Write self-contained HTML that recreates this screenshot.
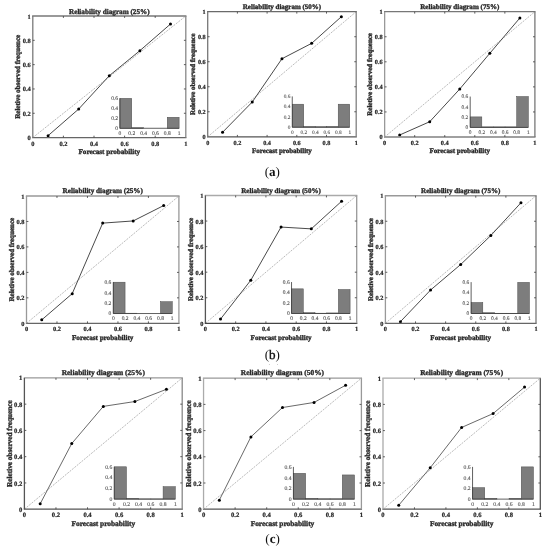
<!DOCTYPE html>
<html><head><meta charset="utf-8"><style>
html,body{margin:0;padding:0;background:#fff;}
svg{display:block;}
text{font-family:"Liberation Serif","Times New Roman",serif;text-rendering:geometricPrecision;}
</style></head><body>
<svg width="546" height="550" viewBox="0 0 546 550">
<rect width="546" height="550" fill="#fff"/>
<g id="a1"><line x1="32.80" y1="137.60" x2="185.80" y2="16.00" stroke="#a8a8a8" stroke-width="0.8" stroke-dasharray="2 1.1"/>
<polyline points="48.10,135.65 78.70,109.02 109.30,75.71 139.90,50.66 170.50,24.03" fill="none" stroke="#3e3e3e" stroke-width="0.95"/>
<circle cx="48.10" cy="135.65" r="1.5" fill="#000"/>
<circle cx="78.70" cy="109.02" r="1.5" fill="#000"/>
<circle cx="109.30" cy="75.71" r="1.5" fill="#000"/>
<circle cx="139.90" cy="50.66" r="1.5" fill="#000"/>
<circle cx="170.50" cy="24.03" r="1.5" fill="#000"/>
<rect x="119.90" y="98.36" width="11.84" height="29.91" fill="#7d7d7d" stroke="#4a4a4a" stroke-width="0.5"/>
<rect x="131.75" y="127.67" width="11.84" height="0.60" fill="#7d7d7d" stroke="#4a4a4a" stroke-width="0.5"/>
<rect x="143.59" y="128.27" width="11.84" height="0.00" fill="#7d7d7d" stroke="#4a4a4a" stroke-width="0.5"/>
<rect x="155.43" y="128.27" width="11.84" height="0.00" fill="#7d7d7d" stroke="#4a4a4a" stroke-width="0.5"/>
<rect x="167.27" y="117.30" width="11.84" height="10.97" fill="#7d7d7d" stroke="#4a4a4a" stroke-width="0.5"/>
<path d="M119.90,98.36 V128.27 H179.11" fill="none" stroke="#383838" stroke-width="0.8"/>
<text x="118.00" y="130.14" font-size="5.51" text-anchor="end" fill="#505050" stroke="#505050" stroke-width="0.1">0</text>
<text x="118.00" y="120.17" font-size="5.51" text-anchor="end" fill="#505050" stroke="#505050" stroke-width="0.1">0.2</text>
<text x="118.00" y="110.20" font-size="5.51" text-anchor="end" fill="#505050" stroke="#505050" stroke-width="0.1">0.4</text>
<text x="118.00" y="100.23" font-size="5.51" text-anchor="end" fill="#505050" stroke="#505050" stroke-width="0.1">0.6</text>
<text x="119.90" y="135.22" font-size="5.51" text-anchor="middle" fill="#505050" stroke="#505050" stroke-width="0.1">0</text>
<text x="131.75" y="135.22" font-size="5.51" text-anchor="middle" fill="#505050" stroke="#505050" stroke-width="0.1">0.2</text>
<text x="143.59" y="135.22" font-size="5.51" text-anchor="middle" fill="#505050" stroke="#505050" stroke-width="0.1">0.4</text>
<text x="155.43" y="135.22" font-size="5.51" text-anchor="middle" fill="#505050" stroke="#505050" stroke-width="0.1">0.6</text>
<text x="167.27" y="135.22" font-size="5.51" text-anchor="middle" fill="#505050" stroke="#505050" stroke-width="0.1">0.8</text>
<text x="179.11" y="135.22" font-size="5.51" text-anchor="middle" fill="#505050" stroke="#505050" stroke-width="0.1">1</text>
<line x1="32.15" y1="16.00" x2="186.45" y2="16.00" stroke="#777" stroke-width="1.3"/>
<line x1="32.15" y1="137.60" x2="186.45" y2="137.60" stroke="#666" stroke-width="1.3"/>
<line x1="32.80" y1="16.00" x2="32.80" y2="137.60" stroke="#7a7a7a" stroke-width="1.3"/>
<line x1="185.80" y1="16.00" x2="185.80" y2="137.60" stroke="#888" stroke-width="1.3"/>
<line x1="63.40" y1="137.60" x2="63.40" y2="135.70" stroke="#4a4a4a" stroke-width="0.9"/>
<line x1="63.40" y1="16.00" x2="63.40" y2="17.90" stroke="#4a4a4a" stroke-width="0.9"/>
<line x1="32.80" y1="113.28" x2="34.70" y2="113.28" stroke="#4a4a4a" stroke-width="0.9"/>
<line x1="185.80" y1="113.28" x2="183.90" y2="113.28" stroke="#4a4a4a" stroke-width="0.9"/>
<line x1="94.00" y1="137.60" x2="94.00" y2="135.70" stroke="#4a4a4a" stroke-width="0.9"/>
<line x1="94.00" y1="16.00" x2="94.00" y2="17.90" stroke="#4a4a4a" stroke-width="0.9"/>
<line x1="32.80" y1="88.96" x2="34.70" y2="88.96" stroke="#4a4a4a" stroke-width="0.9"/>
<line x1="185.80" y1="88.96" x2="183.90" y2="88.96" stroke="#4a4a4a" stroke-width="0.9"/>
<line x1="124.60" y1="137.60" x2="124.60" y2="135.70" stroke="#4a4a4a" stroke-width="0.9"/>
<line x1="124.60" y1="16.00" x2="124.60" y2="17.90" stroke="#4a4a4a" stroke-width="0.9"/>
<line x1="32.80" y1="64.64" x2="34.70" y2="64.64" stroke="#4a4a4a" stroke-width="0.9"/>
<line x1="185.80" y1="64.64" x2="183.90" y2="64.64" stroke="#4a4a4a" stroke-width="0.9"/>
<line x1="155.20" y1="137.60" x2="155.20" y2="135.70" stroke="#4a4a4a" stroke-width="0.9"/>
<line x1="155.20" y1="16.00" x2="155.20" y2="17.90" stroke="#4a4a4a" stroke-width="0.9"/>
<line x1="32.80" y1="40.32" x2="34.70" y2="40.32" stroke="#4a4a4a" stroke-width="0.9"/>
<line x1="185.80" y1="40.32" x2="183.90" y2="40.32" stroke="#4a4a4a" stroke-width="0.9"/>
<text x="32.80" y="145.72" font-size="6.43" font-weight="bold" text-anchor="middle" fill="#2a2a2a" stroke="#2a2a2a" stroke-width="0.22">0</text>
<text x="30.80" y="140.12" font-size="6.43" font-weight="bold" text-anchor="end" fill="#2a2a2a" stroke="#2a2a2a" stroke-width="0.22">0</text>
<text x="63.40" y="145.72" font-size="6.43" font-weight="bold" text-anchor="middle" fill="#2a2a2a" stroke="#2a2a2a" stroke-width="0.22">0.2</text>
<text x="30.80" y="115.80" font-size="6.43" font-weight="bold" text-anchor="end" fill="#2a2a2a" stroke="#2a2a2a" stroke-width="0.22">0.2</text>
<text x="94.00" y="145.72" font-size="6.43" font-weight="bold" text-anchor="middle" fill="#2a2a2a" stroke="#2a2a2a" stroke-width="0.22">0.4</text>
<text x="30.80" y="91.48" font-size="6.43" font-weight="bold" text-anchor="end" fill="#2a2a2a" stroke="#2a2a2a" stroke-width="0.22">0.4</text>
<text x="124.60" y="145.72" font-size="6.43" font-weight="bold" text-anchor="middle" fill="#2a2a2a" stroke="#2a2a2a" stroke-width="0.22">0.6</text>
<text x="30.80" y="67.16" font-size="6.43" font-weight="bold" text-anchor="end" fill="#2a2a2a" stroke="#2a2a2a" stroke-width="0.22">0.6</text>
<text x="155.20" y="145.72" font-size="6.43" font-weight="bold" text-anchor="middle" fill="#2a2a2a" stroke="#2a2a2a" stroke-width="0.22">0.8</text>
<text x="30.80" y="42.84" font-size="6.43" font-weight="bold" text-anchor="end" fill="#2a2a2a" stroke="#2a2a2a" stroke-width="0.22">0.8</text>
<text x="185.80" y="145.72" font-size="6.43" font-weight="bold" text-anchor="middle" fill="#2a2a2a" stroke="#2a2a2a" stroke-width="0.22">1</text>
<text x="30.80" y="18.52" font-size="6.43" font-weight="bold" text-anchor="end" fill="#2a2a2a" stroke="#2a2a2a" stroke-width="0.22">1</text>
<text x="109.30" y="13.70" font-size="7.22" font-weight="bold" text-anchor="middle" fill="#2a2a2a" stroke="#2a2a2a" stroke-width="0.35" textLength="80.64" lengthAdjust="spacing">Reliability diagram (25%)</text>
<text x="109.30" y="154.28" font-size="7.22" font-weight="bold" text-anchor="middle" fill="#2a2a2a" stroke="#2a2a2a" stroke-width="0.35" textLength="61.67" lengthAdjust="spacing">Forecast probability</text>
<text transform="translate(20.20,76.80) rotate(-90)" x="0" y="0" font-size="7.22" font-weight="bold" text-anchor="middle" fill="#2a2a2a" stroke="#2a2a2a" stroke-width="0.35" textLength="84.14" lengthAdjust="spacing">Reletive observed frequence</text></g>
<g id="a2"><line x1="207.70" y1="136.80" x2="356.20" y2="11.70" stroke="#a8a8a8" stroke-width="0.8" stroke-dasharray="2 1.1"/>
<polyline points="222.55,132.30 252.25,102.02 281.95,58.74 311.65,43.35 341.35,16.70" fill="none" stroke="#3e3e3e" stroke-width="0.95"/>
<circle cx="222.55" cy="132.30" r="1.5" fill="#000"/>
<circle cx="252.25" cy="102.02" r="1.5" fill="#000"/>
<circle cx="281.95" cy="58.74" r="1.5" fill="#000"/>
<circle cx="311.65" cy="43.35" r="1.5" fill="#000"/>
<circle cx="341.35" cy="16.70" r="1.5" fill="#000"/>
<rect x="292.25" y="104.21" width="11.49" height="22.98" fill="#7d7d7d" stroke="#4a4a4a" stroke-width="0.5"/>
<rect x="303.74" y="126.68" width="11.49" height="0.51" fill="#7d7d7d" stroke="#4a4a4a" stroke-width="0.5"/>
<rect x="315.24" y="126.78" width="11.49" height="0.41" fill="#7d7d7d" stroke="#4a4a4a" stroke-width="0.5"/>
<rect x="326.73" y="126.68" width="11.49" height="0.51" fill="#7d7d7d" stroke="#4a4a4a" stroke-width="0.5"/>
<rect x="338.22" y="104.21" width="11.49" height="22.98" fill="#7d7d7d" stroke="#4a4a4a" stroke-width="0.5"/>
<path d="M292.25,96.42 V127.19 H349.72" fill="none" stroke="#383838" stroke-width="0.8"/>
<text x="290.35" y="129.01" font-size="5.35" text-anchor="end" fill="#505050" stroke="#505050" stroke-width="0.1">0</text>
<text x="290.35" y="118.75" font-size="5.35" text-anchor="end" fill="#505050" stroke="#505050" stroke-width="0.1">0.2</text>
<text x="290.35" y="108.49" font-size="5.35" text-anchor="end" fill="#505050" stroke="#505050" stroke-width="0.1">0.4</text>
<text x="290.35" y="98.24" font-size="5.35" text-anchor="end" fill="#505050" stroke="#505050" stroke-width="0.1">0.6</text>
<text x="292.25" y="134.03" font-size="5.35" text-anchor="middle" fill="#505050" stroke="#505050" stroke-width="0.1">0</text>
<text x="303.74" y="134.03" font-size="5.35" text-anchor="middle" fill="#505050" stroke="#505050" stroke-width="0.1">0.2</text>
<text x="315.24" y="134.03" font-size="5.35" text-anchor="middle" fill="#505050" stroke="#505050" stroke-width="0.1">0.4</text>
<text x="326.73" y="134.03" font-size="5.35" text-anchor="middle" fill="#505050" stroke="#505050" stroke-width="0.1">0.6</text>
<text x="338.22" y="134.03" font-size="5.35" text-anchor="middle" fill="#505050" stroke="#505050" stroke-width="0.1">0.8</text>
<text x="349.72" y="134.03" font-size="5.35" text-anchor="middle" fill="#505050" stroke="#505050" stroke-width="0.1">1</text>
<line x1="207.05" y1="11.70" x2="356.85" y2="11.70" stroke="#6a6a6a" stroke-width="1.3"/>
<line x1="207.05" y1="136.80" x2="356.85" y2="136.80" stroke="#555" stroke-width="1.3"/>
<line x1="207.70" y1="11.70" x2="207.70" y2="136.80" stroke="#777" stroke-width="1.3"/>
<line x1="356.20" y1="11.70" x2="356.20" y2="136.80" stroke="#808080" stroke-width="1.3"/>
<line x1="237.40" y1="136.80" x2="237.40" y2="134.90" stroke="#4a4a4a" stroke-width="0.9"/>
<line x1="237.40" y1="11.70" x2="237.40" y2="13.60" stroke="#4a4a4a" stroke-width="0.9"/>
<line x1="207.70" y1="111.78" x2="209.60" y2="111.78" stroke="#4a4a4a" stroke-width="0.9"/>
<line x1="356.20" y1="111.78" x2="354.30" y2="111.78" stroke="#4a4a4a" stroke-width="0.9"/>
<line x1="267.10" y1="136.80" x2="267.10" y2="134.90" stroke="#4a4a4a" stroke-width="0.9"/>
<line x1="267.10" y1="11.70" x2="267.10" y2="13.60" stroke="#4a4a4a" stroke-width="0.9"/>
<line x1="207.70" y1="86.76" x2="209.60" y2="86.76" stroke="#4a4a4a" stroke-width="0.9"/>
<line x1="356.20" y1="86.76" x2="354.30" y2="86.76" stroke="#4a4a4a" stroke-width="0.9"/>
<line x1="296.80" y1="136.80" x2="296.80" y2="134.90" stroke="#4a4a4a" stroke-width="0.9"/>
<line x1="296.80" y1="11.70" x2="296.80" y2="13.60" stroke="#4a4a4a" stroke-width="0.9"/>
<line x1="207.70" y1="61.74" x2="209.60" y2="61.74" stroke="#4a4a4a" stroke-width="0.9"/>
<line x1="356.20" y1="61.74" x2="354.30" y2="61.74" stroke="#4a4a4a" stroke-width="0.9"/>
<line x1="326.50" y1="136.80" x2="326.50" y2="134.90" stroke="#4a4a4a" stroke-width="0.9"/>
<line x1="326.50" y1="11.70" x2="326.50" y2="13.60" stroke="#4a4a4a" stroke-width="0.9"/>
<line x1="207.70" y1="36.72" x2="209.60" y2="36.72" stroke="#4a4a4a" stroke-width="0.9"/>
<line x1="356.20" y1="36.72" x2="354.30" y2="36.72" stroke="#4a4a4a" stroke-width="0.9"/>
<text x="207.70" y="144.86" font-size="6.24" font-weight="bold" text-anchor="middle" fill="#2a2a2a" stroke="#2a2a2a" stroke-width="0.22">0</text>
<text x="205.70" y="139.26" font-size="6.24" font-weight="bold" text-anchor="end" fill="#2a2a2a" stroke="#2a2a2a" stroke-width="0.22">0</text>
<text x="237.40" y="144.86" font-size="6.24" font-weight="bold" text-anchor="middle" fill="#2a2a2a" stroke="#2a2a2a" stroke-width="0.22">0.2</text>
<text x="205.70" y="114.24" font-size="6.24" font-weight="bold" text-anchor="end" fill="#2a2a2a" stroke="#2a2a2a" stroke-width="0.22">0.2</text>
<text x="267.10" y="144.86" font-size="6.24" font-weight="bold" text-anchor="middle" fill="#2a2a2a" stroke="#2a2a2a" stroke-width="0.22">0.4</text>
<text x="205.70" y="89.22" font-size="6.24" font-weight="bold" text-anchor="end" fill="#2a2a2a" stroke="#2a2a2a" stroke-width="0.22">0.4</text>
<text x="296.80" y="144.86" font-size="6.24" font-weight="bold" text-anchor="middle" fill="#2a2a2a" stroke="#2a2a2a" stroke-width="0.22">0.6</text>
<text x="205.70" y="64.20" font-size="6.24" font-weight="bold" text-anchor="end" fill="#2a2a2a" stroke="#2a2a2a" stroke-width="0.22">0.6</text>
<text x="326.50" y="144.86" font-size="6.24" font-weight="bold" text-anchor="middle" fill="#2a2a2a" stroke="#2a2a2a" stroke-width="0.22">0.8</text>
<text x="205.70" y="39.18" font-size="6.24" font-weight="bold" text-anchor="end" fill="#2a2a2a" stroke="#2a2a2a" stroke-width="0.22">0.8</text>
<text x="356.20" y="144.86" font-size="6.24" font-weight="bold" text-anchor="middle" fill="#2a2a2a" stroke="#2a2a2a" stroke-width="0.22">1</text>
<text x="205.70" y="14.16" font-size="6.24" font-weight="bold" text-anchor="end" fill="#2a2a2a" stroke="#2a2a2a" stroke-width="0.22">1</text>
<text x="281.95" y="9.40" font-size="7.01" font-weight="bold" text-anchor="middle" fill="#2a2a2a" stroke="#2a2a2a" stroke-width="0.35" textLength="78.25" lengthAdjust="spacing">Reliability diagram (50%)</text>
<text x="281.95" y="152.99" font-size="7.01" font-weight="bold" text-anchor="middle" fill="#2a2a2a" stroke="#2a2a2a" stroke-width="0.35" textLength="59.84" lengthAdjust="spacing">Forecast probability</text>
<text transform="translate(195.10,74.25) rotate(-90)" x="0" y="0" font-size="7.01" font-weight="bold" text-anchor="middle" fill="#2a2a2a" stroke="#2a2a2a" stroke-width="0.35" textLength="81.68" lengthAdjust="spacing">Reletive observed frequence</text></g>
<g id="a3"><line x1="384.65" y1="137.00" x2="534.90" y2="11.70" stroke="#a8a8a8" stroke-width="0.8" stroke-dasharray="2 1.1"/>
<polyline points="399.67,135.00 429.72,121.71 459.77,89.01 489.82,53.30 519.88,17.97" fill="none" stroke="#3e3e3e" stroke-width="0.95"/>
<circle cx="399.67" cy="135.00" r="1.5" fill="#000"/>
<circle cx="429.72" cy="121.71" r="1.5" fill="#000"/>
<circle cx="459.77" cy="89.01" r="1.5" fill="#000"/>
<circle cx="489.82" cy="53.30" r="1.5" fill="#000"/>
<circle cx="519.88" cy="17.97" r="1.5" fill="#000"/>
<rect x="470.19" y="116.90" width="11.63" height="10.48" fill="#7d7d7d" stroke="#4a4a4a" stroke-width="0.5"/>
<rect x="481.82" y="126.86" width="11.63" height="0.51" fill="#7d7d7d" stroke="#4a4a4a" stroke-width="0.5"/>
<rect x="493.45" y="126.86" width="11.63" height="0.51" fill="#7d7d7d" stroke="#4a4a4a" stroke-width="0.5"/>
<rect x="505.08" y="126.86" width="11.63" height="0.51" fill="#7d7d7d" stroke="#4a4a4a" stroke-width="0.5"/>
<rect x="516.71" y="96.55" width="11.63" height="30.82" fill="#7d7d7d" stroke="#4a4a4a" stroke-width="0.5"/>
<path d="M470.19,96.55 V127.38 H528.34" fill="none" stroke="#383838" stroke-width="0.8"/>
<text x="468.29" y="129.22" font-size="5.41" text-anchor="end" fill="#505050" stroke="#505050" stroke-width="0.1">0</text>
<text x="468.29" y="118.94" font-size="5.41" text-anchor="end" fill="#505050" stroke="#505050" stroke-width="0.1">0.2</text>
<text x="468.29" y="108.67" font-size="5.41" text-anchor="end" fill="#505050" stroke="#505050" stroke-width="0.1">0.4</text>
<text x="468.29" y="98.39" font-size="5.41" text-anchor="end" fill="#505050" stroke="#505050" stroke-width="0.1">0.6</text>
<text x="470.19" y="134.25" font-size="5.41" text-anchor="middle" fill="#505050" stroke="#505050" stroke-width="0.1">0</text>
<text x="481.82" y="134.25" font-size="5.41" text-anchor="middle" fill="#505050" stroke="#505050" stroke-width="0.1">0.2</text>
<text x="493.45" y="134.25" font-size="5.41" text-anchor="middle" fill="#505050" stroke="#505050" stroke-width="0.1">0.4</text>
<text x="505.08" y="134.25" font-size="5.41" text-anchor="middle" fill="#505050" stroke="#505050" stroke-width="0.1">0.6</text>
<text x="516.71" y="134.25" font-size="5.41" text-anchor="middle" fill="#505050" stroke="#505050" stroke-width="0.1">0.8</text>
<text x="528.34" y="134.25" font-size="5.41" text-anchor="middle" fill="#505050" stroke="#505050" stroke-width="0.1">1</text>
<line x1="384.00" y1="11.70" x2="535.55" y2="11.70" stroke="#777" stroke-width="1.3"/>
<line x1="384.00" y1="137.00" x2="535.55" y2="137.00" stroke="#808080" stroke-width="1.3"/>
<line x1="384.65" y1="11.70" x2="384.65" y2="137.00" stroke="#999" stroke-width="1.3"/>
<line x1="534.90" y1="11.70" x2="534.90" y2="137.00" stroke="#777" stroke-width="1.3"/>
<line x1="414.70" y1="137.00" x2="414.70" y2="135.10" stroke="#4a4a4a" stroke-width="0.9"/>
<line x1="414.70" y1="11.70" x2="414.70" y2="13.60" stroke="#4a4a4a" stroke-width="0.9"/>
<line x1="384.65" y1="111.94" x2="386.55" y2="111.94" stroke="#4a4a4a" stroke-width="0.9"/>
<line x1="534.90" y1="111.94" x2="533.00" y2="111.94" stroke="#4a4a4a" stroke-width="0.9"/>
<line x1="444.75" y1="137.00" x2="444.75" y2="135.10" stroke="#4a4a4a" stroke-width="0.9"/>
<line x1="444.75" y1="11.70" x2="444.75" y2="13.60" stroke="#4a4a4a" stroke-width="0.9"/>
<line x1="384.65" y1="86.88" x2="386.55" y2="86.88" stroke="#4a4a4a" stroke-width="0.9"/>
<line x1="534.90" y1="86.88" x2="533.00" y2="86.88" stroke="#4a4a4a" stroke-width="0.9"/>
<line x1="474.80" y1="137.00" x2="474.80" y2="135.10" stroke="#4a4a4a" stroke-width="0.9"/>
<line x1="474.80" y1="11.70" x2="474.80" y2="13.60" stroke="#4a4a4a" stroke-width="0.9"/>
<line x1="384.65" y1="61.82" x2="386.55" y2="61.82" stroke="#4a4a4a" stroke-width="0.9"/>
<line x1="534.90" y1="61.82" x2="533.00" y2="61.82" stroke="#4a4a4a" stroke-width="0.9"/>
<line x1="504.85" y1="137.00" x2="504.85" y2="135.10" stroke="#4a4a4a" stroke-width="0.9"/>
<line x1="504.85" y1="11.70" x2="504.85" y2="13.60" stroke="#4a4a4a" stroke-width="0.9"/>
<line x1="384.65" y1="36.76" x2="386.55" y2="36.76" stroke="#4a4a4a" stroke-width="0.9"/>
<line x1="534.90" y1="36.76" x2="533.00" y2="36.76" stroke="#4a4a4a" stroke-width="0.9"/>
<text x="384.65" y="145.08" font-size="6.31" font-weight="bold" text-anchor="middle" fill="#2a2a2a" stroke="#2a2a2a" stroke-width="0.22">0</text>
<text x="382.65" y="139.48" font-size="6.31" font-weight="bold" text-anchor="end" fill="#2a2a2a" stroke="#2a2a2a" stroke-width="0.22">0</text>
<text x="414.70" y="145.08" font-size="6.31" font-weight="bold" text-anchor="middle" fill="#2a2a2a" stroke="#2a2a2a" stroke-width="0.22">0.2</text>
<text x="382.65" y="114.42" font-size="6.31" font-weight="bold" text-anchor="end" fill="#2a2a2a" stroke="#2a2a2a" stroke-width="0.22">0.2</text>
<text x="444.75" y="145.08" font-size="6.31" font-weight="bold" text-anchor="middle" fill="#2a2a2a" stroke="#2a2a2a" stroke-width="0.22">0.4</text>
<text x="382.65" y="89.36" font-size="6.31" font-weight="bold" text-anchor="end" fill="#2a2a2a" stroke="#2a2a2a" stroke-width="0.22">0.4</text>
<text x="474.80" y="145.08" font-size="6.31" font-weight="bold" text-anchor="middle" fill="#2a2a2a" stroke="#2a2a2a" stroke-width="0.22">0.6</text>
<text x="382.65" y="64.30" font-size="6.31" font-weight="bold" text-anchor="end" fill="#2a2a2a" stroke="#2a2a2a" stroke-width="0.22">0.6</text>
<text x="504.85" y="145.08" font-size="6.31" font-weight="bold" text-anchor="middle" fill="#2a2a2a" stroke="#2a2a2a" stroke-width="0.22">0.8</text>
<text x="382.65" y="39.24" font-size="6.31" font-weight="bold" text-anchor="end" fill="#2a2a2a" stroke="#2a2a2a" stroke-width="0.22">0.8</text>
<text x="534.90" y="145.08" font-size="6.31" font-weight="bold" text-anchor="middle" fill="#2a2a2a" stroke="#2a2a2a" stroke-width="0.22">1</text>
<text x="382.65" y="14.18" font-size="6.31" font-weight="bold" text-anchor="end" fill="#2a2a2a" stroke="#2a2a2a" stroke-width="0.22">1</text>
<text x="459.77" y="9.40" font-size="7.09" font-weight="bold" text-anchor="middle" fill="#2a2a2a" stroke="#2a2a2a" stroke-width="0.35" textLength="79.18" lengthAdjust="spacing">Reliability diagram (75%)</text>
<text x="459.77" y="153.38" font-size="7.09" font-weight="bold" text-anchor="middle" fill="#2a2a2a" stroke="#2a2a2a" stroke-width="0.35" textLength="60.55" lengthAdjust="spacing">Forecast probability</text>
<text transform="translate(372.05,74.35) rotate(-90)" x="0" y="0" font-size="7.09" font-weight="bold" text-anchor="middle" fill="#2a2a2a" stroke="#2a2a2a" stroke-width="0.35" textLength="82.64" lengthAdjust="spacing">Reletive observed frequence</text></g>
<g id="b1"><line x1="26.50" y1="323.30" x2="178.90" y2="196.00" stroke="#a8a8a8" stroke-width="0.8" stroke-dasharray="2 1.1"/>
<polyline points="41.74,319.86 72.22,293.64 102.70,223.11 133.18,220.95 163.66,205.55" fill="none" stroke="#4a4a4a" stroke-width="1.0"/>
<circle cx="41.74" cy="319.86" r="1.5" fill="#000"/>
<circle cx="72.22" cy="293.64" r="1.5" fill="#000"/>
<circle cx="102.70" cy="223.11" r="1.5" fill="#000"/>
<circle cx="133.18" cy="220.95" r="1.5" fill="#000"/>
<circle cx="163.66" cy="205.55" r="1.5" fill="#000"/>
<rect x="113.26" y="282.20" width="11.80" height="31.32" fill="#7d7d7d" stroke="#4a4a4a" stroke-width="0.5"/>
<rect x="125.06" y="313.20" width="11.80" height="0.31" fill="#7d7d7d" stroke="#4a4a4a" stroke-width="0.5"/>
<rect x="136.85" y="313.52" width="11.80" height="0.00" fill="#7d7d7d" stroke="#4a4a4a" stroke-width="0.5"/>
<rect x="148.65" y="313.52" width="11.80" height="0.00" fill="#7d7d7d" stroke="#4a4a4a" stroke-width="0.5"/>
<rect x="160.45" y="301.72" width="11.80" height="11.80" fill="#7d7d7d" stroke="#4a4a4a" stroke-width="0.5"/>
<path d="M113.26,282.20 V313.52 H172.24" fill="none" stroke="#383838" stroke-width="0.8"/>
<text x="111.36" y="315.38" font-size="5.49" text-anchor="end" fill="#505050" stroke="#505050" stroke-width="0.1">0</text>
<text x="111.36" y="304.94" font-size="5.49" text-anchor="end" fill="#505050" stroke="#505050" stroke-width="0.1">0.2</text>
<text x="111.36" y="294.50" font-size="5.49" text-anchor="end" fill="#505050" stroke="#505050" stroke-width="0.1">0.4</text>
<text x="111.36" y="284.07" font-size="5.49" text-anchor="end" fill="#505050" stroke="#505050" stroke-width="0.1">0.6</text>
<text x="113.26" y="320.45" font-size="5.49" text-anchor="middle" fill="#505050" stroke="#505050" stroke-width="0.1">0</text>
<text x="125.06" y="320.45" font-size="5.49" text-anchor="middle" fill="#505050" stroke="#505050" stroke-width="0.1">0.2</text>
<text x="136.85" y="320.45" font-size="5.49" text-anchor="middle" fill="#505050" stroke="#505050" stroke-width="0.1">0.4</text>
<text x="148.65" y="320.45" font-size="5.49" text-anchor="middle" fill="#505050" stroke="#505050" stroke-width="0.1">0.6</text>
<text x="160.45" y="320.45" font-size="5.49" text-anchor="middle" fill="#505050" stroke="#505050" stroke-width="0.1">0.8</text>
<text x="172.24" y="320.45" font-size="5.49" text-anchor="middle" fill="#505050" stroke="#505050" stroke-width="0.1">1</text>
<line x1="25.85" y1="196.00" x2="179.55" y2="196.00" stroke="#999" stroke-width="1.3"/>
<line x1="25.85" y1="323.30" x2="179.55" y2="323.30" stroke="#666" stroke-width="1.3"/>
<line x1="26.50" y1="196.00" x2="26.50" y2="323.30" stroke="#999" stroke-width="1.3"/>
<line x1="178.90" y1="196.00" x2="178.90" y2="323.30" stroke="#999" stroke-width="1.3"/>
<line x1="56.98" y1="323.30" x2="56.98" y2="321.40" stroke="#4a4a4a" stroke-width="0.9"/>
<line x1="56.98" y1="196.00" x2="56.98" y2="197.90" stroke="#4a4a4a" stroke-width="0.9"/>
<line x1="26.50" y1="297.84" x2="28.40" y2="297.84" stroke="#4a4a4a" stroke-width="0.9"/>
<line x1="178.90" y1="297.84" x2="177.00" y2="297.84" stroke="#4a4a4a" stroke-width="0.9"/>
<line x1="87.46" y1="323.30" x2="87.46" y2="321.40" stroke="#4a4a4a" stroke-width="0.9"/>
<line x1="87.46" y1="196.00" x2="87.46" y2="197.90" stroke="#4a4a4a" stroke-width="0.9"/>
<line x1="26.50" y1="272.38" x2="28.40" y2="272.38" stroke="#4a4a4a" stroke-width="0.9"/>
<line x1="178.90" y1="272.38" x2="177.00" y2="272.38" stroke="#4a4a4a" stroke-width="0.9"/>
<line x1="117.94" y1="323.30" x2="117.94" y2="321.40" stroke="#4a4a4a" stroke-width="0.9"/>
<line x1="117.94" y1="196.00" x2="117.94" y2="197.90" stroke="#4a4a4a" stroke-width="0.9"/>
<line x1="26.50" y1="246.92" x2="28.40" y2="246.92" stroke="#4a4a4a" stroke-width="0.9"/>
<line x1="178.90" y1="246.92" x2="177.00" y2="246.92" stroke="#4a4a4a" stroke-width="0.9"/>
<line x1="148.42" y1="323.30" x2="148.42" y2="321.40" stroke="#4a4a4a" stroke-width="0.9"/>
<line x1="148.42" y1="196.00" x2="148.42" y2="197.90" stroke="#4a4a4a" stroke-width="0.9"/>
<line x1="26.50" y1="221.46" x2="28.40" y2="221.46" stroke="#4a4a4a" stroke-width="0.9"/>
<line x1="178.90" y1="221.46" x2="177.00" y2="221.46" stroke="#4a4a4a" stroke-width="0.9"/>
<text x="26.50" y="331.41" font-size="6.40" font-weight="bold" text-anchor="middle" fill="#2a2a2a" stroke="#2a2a2a" stroke-width="0.22">0</text>
<text x="24.50" y="325.81" font-size="6.40" font-weight="bold" text-anchor="end" fill="#2a2a2a" stroke="#2a2a2a" stroke-width="0.22">0</text>
<text x="56.98" y="331.41" font-size="6.40" font-weight="bold" text-anchor="middle" fill="#2a2a2a" stroke="#2a2a2a" stroke-width="0.22">0.2</text>
<text x="24.50" y="300.35" font-size="6.40" font-weight="bold" text-anchor="end" fill="#2a2a2a" stroke="#2a2a2a" stroke-width="0.22">0.2</text>
<text x="87.46" y="331.41" font-size="6.40" font-weight="bold" text-anchor="middle" fill="#2a2a2a" stroke="#2a2a2a" stroke-width="0.22">0.4</text>
<text x="24.50" y="274.89" font-size="6.40" font-weight="bold" text-anchor="end" fill="#2a2a2a" stroke="#2a2a2a" stroke-width="0.22">0.4</text>
<text x="117.94" y="331.41" font-size="6.40" font-weight="bold" text-anchor="middle" fill="#2a2a2a" stroke="#2a2a2a" stroke-width="0.22">0.6</text>
<text x="24.50" y="249.43" font-size="6.40" font-weight="bold" text-anchor="end" fill="#2a2a2a" stroke="#2a2a2a" stroke-width="0.22">0.6</text>
<text x="148.42" y="331.41" font-size="6.40" font-weight="bold" text-anchor="middle" fill="#2a2a2a" stroke="#2a2a2a" stroke-width="0.22">0.8</text>
<text x="24.50" y="223.97" font-size="6.40" font-weight="bold" text-anchor="end" fill="#2a2a2a" stroke="#2a2a2a" stroke-width="0.22">0.8</text>
<text x="178.90" y="331.41" font-size="6.40" font-weight="bold" text-anchor="middle" fill="#2a2a2a" stroke="#2a2a2a" stroke-width="0.22">1</text>
<text x="24.50" y="198.51" font-size="6.40" font-weight="bold" text-anchor="end" fill="#2a2a2a" stroke="#2a2a2a" stroke-width="0.22">1</text>
<text x="102.70" y="193.10" font-size="7.19" font-weight="bold" text-anchor="middle" fill="#2a2a2a" stroke="#2a2a2a" stroke-width="0.35" textLength="80.32" lengthAdjust="spacing">Reliability diagram (25%)</text>
<text x="102.70" y="339.91" font-size="7.19" font-weight="bold" text-anchor="middle" fill="#2a2a2a" stroke="#2a2a2a" stroke-width="0.35" textLength="61.42" lengthAdjust="spacing">Forecast probability</text>
<text transform="translate(13.90,259.65) rotate(-90)" x="0" y="0" font-size="7.19" font-weight="bold" text-anchor="middle" fill="#2a2a2a" stroke="#2a2a2a" stroke-width="0.35" textLength="83.82" lengthAdjust="spacing">Reletive observed frequence</text></g>
<g id="b2"><line x1="205.40" y1="323.30" x2="356.70" y2="195.50" stroke="#a8a8a8" stroke-width="0.8" stroke-dasharray="2 1.1"/>
<polyline points="220.53,319.08 250.79,280.23 281.05,227.07 311.31,228.86 341.57,201.25" fill="none" stroke="#4a4a4a" stroke-width="1.0"/>
<circle cx="220.53" cy="319.08" r="1.5" fill="#000"/>
<circle cx="250.79" cy="280.23" r="1.5" fill="#000"/>
<circle cx="281.05" cy="227.07" r="1.5" fill="#000"/>
<circle cx="311.31" cy="228.86" r="1.5" fill="#000"/>
<circle cx="341.57" cy="201.25" r="1.5" fill="#000"/>
<rect x="291.54" y="288.85" width="11.71" height="24.63" fill="#7d7d7d" stroke="#4a4a4a" stroke-width="0.5"/>
<rect x="303.25" y="312.69" width="11.71" height="0.79" fill="#7d7d7d" stroke="#4a4a4a" stroke-width="0.5"/>
<rect x="314.96" y="313.21" width="11.71" height="0.26" fill="#7d7d7d" stroke="#4a4a4a" stroke-width="0.5"/>
<rect x="326.67" y="312.95" width="11.71" height="0.52" fill="#7d7d7d" stroke="#4a4a4a" stroke-width="0.5"/>
<rect x="338.38" y="289.53" width="11.71" height="23.95" fill="#7d7d7d" stroke="#4a4a4a" stroke-width="0.5"/>
<path d="M291.54,282.04 V313.48 H350.09" fill="none" stroke="#383838" stroke-width="0.8"/>
<text x="289.64" y="315.33" font-size="5.45" text-anchor="end" fill="#505050" stroke="#505050" stroke-width="0.1">0</text>
<text x="289.64" y="304.85" font-size="5.45" text-anchor="end" fill="#505050" stroke="#505050" stroke-width="0.1">0.2</text>
<text x="289.64" y="294.37" font-size="5.45" text-anchor="end" fill="#505050" stroke="#505050" stroke-width="0.1">0.4</text>
<text x="289.64" y="283.89" font-size="5.45" text-anchor="end" fill="#505050" stroke="#505050" stroke-width="0.1">0.6</text>
<text x="291.54" y="320.38" font-size="5.45" text-anchor="middle" fill="#505050" stroke="#505050" stroke-width="0.1">0</text>
<text x="303.25" y="320.38" font-size="5.45" text-anchor="middle" fill="#505050" stroke="#505050" stroke-width="0.1">0.2</text>
<text x="314.96" y="320.38" font-size="5.45" text-anchor="middle" fill="#505050" stroke="#505050" stroke-width="0.1">0.4</text>
<text x="326.67" y="320.38" font-size="5.45" text-anchor="middle" fill="#505050" stroke="#505050" stroke-width="0.1">0.6</text>
<text x="338.38" y="320.38" font-size="5.45" text-anchor="middle" fill="#505050" stroke="#505050" stroke-width="0.1">0.8</text>
<text x="350.09" y="320.38" font-size="5.45" text-anchor="middle" fill="#505050" stroke="#505050" stroke-width="0.1">1</text>
<line x1="204.75" y1="195.50" x2="357.35" y2="195.50" stroke="#aaa" stroke-width="1.3"/>
<line x1="204.75" y1="323.30" x2="357.35" y2="323.30" stroke="#444" stroke-width="1.3"/>
<line x1="205.40" y1="195.50" x2="205.40" y2="323.30" stroke="#555" stroke-width="1.3"/>
<line x1="356.70" y1="195.50" x2="356.70" y2="323.30" stroke="#999" stroke-width="1.3"/>
<line x1="235.66" y1="323.30" x2="235.66" y2="321.40" stroke="#4a4a4a" stroke-width="0.9"/>
<line x1="235.66" y1="195.50" x2="235.66" y2="197.40" stroke="#4a4a4a" stroke-width="0.9"/>
<line x1="205.40" y1="297.74" x2="207.30" y2="297.74" stroke="#4a4a4a" stroke-width="0.9"/>
<line x1="356.70" y1="297.74" x2="354.80" y2="297.74" stroke="#4a4a4a" stroke-width="0.9"/>
<line x1="265.92" y1="323.30" x2="265.92" y2="321.40" stroke="#4a4a4a" stroke-width="0.9"/>
<line x1="265.92" y1="195.50" x2="265.92" y2="197.40" stroke="#4a4a4a" stroke-width="0.9"/>
<line x1="205.40" y1="272.18" x2="207.30" y2="272.18" stroke="#4a4a4a" stroke-width="0.9"/>
<line x1="356.70" y1="272.18" x2="354.80" y2="272.18" stroke="#4a4a4a" stroke-width="0.9"/>
<line x1="296.18" y1="323.30" x2="296.18" y2="321.40" stroke="#4a4a4a" stroke-width="0.9"/>
<line x1="296.18" y1="195.50" x2="296.18" y2="197.40" stroke="#4a4a4a" stroke-width="0.9"/>
<line x1="205.40" y1="246.62" x2="207.30" y2="246.62" stroke="#4a4a4a" stroke-width="0.9"/>
<line x1="356.70" y1="246.62" x2="354.80" y2="246.62" stroke="#4a4a4a" stroke-width="0.9"/>
<line x1="326.44" y1="323.30" x2="326.44" y2="321.40" stroke="#4a4a4a" stroke-width="0.9"/>
<line x1="326.44" y1="195.50" x2="326.44" y2="197.40" stroke="#4a4a4a" stroke-width="0.9"/>
<line x1="205.40" y1="221.06" x2="207.30" y2="221.06" stroke="#4a4a4a" stroke-width="0.9"/>
<line x1="356.70" y1="221.06" x2="354.80" y2="221.06" stroke="#4a4a4a" stroke-width="0.9"/>
<text x="205.40" y="331.40" font-size="6.35" font-weight="bold" text-anchor="middle" fill="#2a2a2a" stroke="#2a2a2a" stroke-width="0.22">0</text>
<text x="203.40" y="325.80" font-size="6.35" font-weight="bold" text-anchor="end" fill="#2a2a2a" stroke="#2a2a2a" stroke-width="0.22">0</text>
<text x="235.66" y="331.40" font-size="6.35" font-weight="bold" text-anchor="middle" fill="#2a2a2a" stroke="#2a2a2a" stroke-width="0.22">0.2</text>
<text x="203.40" y="300.24" font-size="6.35" font-weight="bold" text-anchor="end" fill="#2a2a2a" stroke="#2a2a2a" stroke-width="0.22">0.2</text>
<text x="265.92" y="331.40" font-size="6.35" font-weight="bold" text-anchor="middle" fill="#2a2a2a" stroke="#2a2a2a" stroke-width="0.22">0.4</text>
<text x="203.40" y="274.68" font-size="6.35" font-weight="bold" text-anchor="end" fill="#2a2a2a" stroke="#2a2a2a" stroke-width="0.22">0.4</text>
<text x="296.18" y="331.40" font-size="6.35" font-weight="bold" text-anchor="middle" fill="#2a2a2a" stroke="#2a2a2a" stroke-width="0.22">0.6</text>
<text x="203.40" y="249.12" font-size="6.35" font-weight="bold" text-anchor="end" fill="#2a2a2a" stroke="#2a2a2a" stroke-width="0.22">0.6</text>
<text x="326.44" y="331.40" font-size="6.35" font-weight="bold" text-anchor="middle" fill="#2a2a2a" stroke="#2a2a2a" stroke-width="0.22">0.8</text>
<text x="203.40" y="223.56" font-size="6.35" font-weight="bold" text-anchor="end" fill="#2a2a2a" stroke="#2a2a2a" stroke-width="0.22">0.8</text>
<text x="356.70" y="331.40" font-size="6.35" font-weight="bold" text-anchor="middle" fill="#2a2a2a" stroke="#2a2a2a" stroke-width="0.22">1</text>
<text x="203.40" y="198.00" font-size="6.35" font-weight="bold" text-anchor="end" fill="#2a2a2a" stroke="#2a2a2a" stroke-width="0.22">1</text>
<text x="281.05" y="192.60" font-size="7.14" font-weight="bold" text-anchor="middle" fill="#2a2a2a" stroke="#2a2a2a" stroke-width="0.35" textLength="79.74" lengthAdjust="spacing">Reliability diagram (50%)</text>
<text x="281.05" y="339.79" font-size="7.14" font-weight="bold" text-anchor="middle" fill="#2a2a2a" stroke="#2a2a2a" stroke-width="0.35" textLength="60.98" lengthAdjust="spacing">Forecast probability</text>
<text transform="translate(192.80,259.40) rotate(-90)" x="0" y="0" font-size="7.14" font-weight="bold" text-anchor="middle" fill="#2a2a2a" stroke="#2a2a2a" stroke-width="0.35" textLength="83.21" lengthAdjust="spacing">Reletive observed frequence</text></g>
<g id="b3"><line x1="385.40" y1="323.30" x2="536.00" y2="195.75" stroke="#a8a8a8" stroke-width="0.8" stroke-dasharray="2 1.1"/>
<polyline points="400.46,321.64 430.58,290.01 460.70,264.50 490.82,235.55 520.94,202.77" fill="none" stroke="#4a4a4a" stroke-width="1.0"/>
<circle cx="400.46" cy="321.64" r="1.5" fill="#000"/>
<circle cx="430.58" cy="290.01" r="1.5" fill="#000"/>
<circle cx="460.70" cy="264.50" r="1.5" fill="#000"/>
<circle cx="490.82" cy="235.55" r="1.5" fill="#000"/>
<circle cx="520.94" cy="202.77" r="1.5" fill="#000"/>
<rect x="471.14" y="302.51" width="11.66" height="10.98" fill="#7d7d7d" stroke="#4a4a4a" stroke-width="0.5"/>
<rect x="482.80" y="312.71" width="11.66" height="0.78" fill="#7d7d7d" stroke="#4a4a4a" stroke-width="0.5"/>
<rect x="494.45" y="313.23" width="11.66" height="0.26" fill="#7d7d7d" stroke="#4a4a4a" stroke-width="0.5"/>
<rect x="506.11" y="313.23" width="11.66" height="0.26" fill="#7d7d7d" stroke="#4a4a4a" stroke-width="0.5"/>
<rect x="517.77" y="282.38" width="11.66" height="31.12" fill="#7d7d7d" stroke="#4a4a4a" stroke-width="0.5"/>
<path d="M471.14,282.12 V313.50 H529.42" fill="none" stroke="#383838" stroke-width="0.8"/>
<text x="469.24" y="315.34" font-size="5.42" text-anchor="end" fill="#505050" stroke="#505050" stroke-width="0.1">0</text>
<text x="469.24" y="304.88" font-size="5.42" text-anchor="end" fill="#505050" stroke="#505050" stroke-width="0.1">0.2</text>
<text x="469.24" y="294.42" font-size="5.42" text-anchor="end" fill="#505050" stroke="#505050" stroke-width="0.1">0.4</text>
<text x="469.24" y="283.96" font-size="5.42" text-anchor="end" fill="#505050" stroke="#505050" stroke-width="0.1">0.6</text>
<text x="471.14" y="320.38" font-size="5.42" text-anchor="middle" fill="#505050" stroke="#505050" stroke-width="0.1">0</text>
<text x="482.80" y="320.38" font-size="5.42" text-anchor="middle" fill="#505050" stroke="#505050" stroke-width="0.1">0.2</text>
<text x="494.45" y="320.38" font-size="5.42" text-anchor="middle" fill="#505050" stroke="#505050" stroke-width="0.1">0.4</text>
<text x="506.11" y="320.38" font-size="5.42" text-anchor="middle" fill="#505050" stroke="#505050" stroke-width="0.1">0.6</text>
<text x="517.77" y="320.38" font-size="5.42" text-anchor="middle" fill="#505050" stroke="#505050" stroke-width="0.1">0.8</text>
<text x="529.42" y="320.38" font-size="5.42" text-anchor="middle" fill="#505050" stroke="#505050" stroke-width="0.1">1</text>
<line x1="384.75" y1="195.75" x2="536.65" y2="195.75" stroke="#999" stroke-width="1.3"/>
<line x1="384.75" y1="323.30" x2="536.65" y2="323.30" stroke="#666" stroke-width="1.3"/>
<line x1="385.40" y1="195.75" x2="385.40" y2="323.30" stroke="#999" stroke-width="1.3"/>
<line x1="536.00" y1="195.75" x2="536.00" y2="323.30" stroke="#777" stroke-width="1.3"/>
<line x1="415.52" y1="323.30" x2="415.52" y2="321.40" stroke="#4a4a4a" stroke-width="0.9"/>
<line x1="415.52" y1="195.75" x2="415.52" y2="197.65" stroke="#4a4a4a" stroke-width="0.9"/>
<line x1="385.40" y1="297.79" x2="387.30" y2="297.79" stroke="#4a4a4a" stroke-width="0.9"/>
<line x1="536.00" y1="297.79" x2="534.10" y2="297.79" stroke="#4a4a4a" stroke-width="0.9"/>
<line x1="445.64" y1="323.30" x2="445.64" y2="321.40" stroke="#4a4a4a" stroke-width="0.9"/>
<line x1="445.64" y1="195.75" x2="445.64" y2="197.65" stroke="#4a4a4a" stroke-width="0.9"/>
<line x1="385.40" y1="272.28" x2="387.30" y2="272.28" stroke="#4a4a4a" stroke-width="0.9"/>
<line x1="536.00" y1="272.28" x2="534.10" y2="272.28" stroke="#4a4a4a" stroke-width="0.9"/>
<line x1="475.76" y1="323.30" x2="475.76" y2="321.40" stroke="#4a4a4a" stroke-width="0.9"/>
<line x1="475.76" y1="195.75" x2="475.76" y2="197.65" stroke="#4a4a4a" stroke-width="0.9"/>
<line x1="385.40" y1="246.77" x2="387.30" y2="246.77" stroke="#4a4a4a" stroke-width="0.9"/>
<line x1="536.00" y1="246.77" x2="534.10" y2="246.77" stroke="#4a4a4a" stroke-width="0.9"/>
<line x1="505.88" y1="323.30" x2="505.88" y2="321.40" stroke="#4a4a4a" stroke-width="0.9"/>
<line x1="505.88" y1="195.75" x2="505.88" y2="197.65" stroke="#4a4a4a" stroke-width="0.9"/>
<line x1="385.40" y1="221.26" x2="387.30" y2="221.26" stroke="#4a4a4a" stroke-width="0.9"/>
<line x1="536.00" y1="221.26" x2="534.10" y2="221.26" stroke="#4a4a4a" stroke-width="0.9"/>
<text x="385.40" y="331.39" font-size="6.33" font-weight="bold" text-anchor="middle" fill="#2a2a2a" stroke="#2a2a2a" stroke-width="0.22">0</text>
<text x="383.40" y="325.79" font-size="6.33" font-weight="bold" text-anchor="end" fill="#2a2a2a" stroke="#2a2a2a" stroke-width="0.22">0</text>
<text x="415.52" y="331.39" font-size="6.33" font-weight="bold" text-anchor="middle" fill="#2a2a2a" stroke="#2a2a2a" stroke-width="0.22">0.2</text>
<text x="383.40" y="300.28" font-size="6.33" font-weight="bold" text-anchor="end" fill="#2a2a2a" stroke="#2a2a2a" stroke-width="0.22">0.2</text>
<text x="445.64" y="331.39" font-size="6.33" font-weight="bold" text-anchor="middle" fill="#2a2a2a" stroke="#2a2a2a" stroke-width="0.22">0.4</text>
<text x="383.40" y="274.77" font-size="6.33" font-weight="bold" text-anchor="end" fill="#2a2a2a" stroke="#2a2a2a" stroke-width="0.22">0.4</text>
<text x="475.76" y="331.39" font-size="6.33" font-weight="bold" text-anchor="middle" fill="#2a2a2a" stroke="#2a2a2a" stroke-width="0.22">0.6</text>
<text x="383.40" y="249.26" font-size="6.33" font-weight="bold" text-anchor="end" fill="#2a2a2a" stroke="#2a2a2a" stroke-width="0.22">0.6</text>
<text x="505.88" y="331.39" font-size="6.33" font-weight="bold" text-anchor="middle" fill="#2a2a2a" stroke="#2a2a2a" stroke-width="0.22">0.8</text>
<text x="383.40" y="223.75" font-size="6.33" font-weight="bold" text-anchor="end" fill="#2a2a2a" stroke="#2a2a2a" stroke-width="0.22">0.8</text>
<text x="536.00" y="331.39" font-size="6.33" font-weight="bold" text-anchor="middle" fill="#2a2a2a" stroke="#2a2a2a" stroke-width="0.22">1</text>
<text x="383.40" y="198.24" font-size="6.33" font-weight="bold" text-anchor="end" fill="#2a2a2a" stroke="#2a2a2a" stroke-width="0.22">1</text>
<text x="460.70" y="192.85" font-size="7.11" font-weight="bold" text-anchor="middle" fill="#2a2a2a" stroke="#2a2a2a" stroke-width="0.35" textLength="79.37" lengthAdjust="spacing">Reliability diagram (75%)</text>
<text x="460.70" y="339.72" font-size="7.11" font-weight="bold" text-anchor="middle" fill="#2a2a2a" stroke="#2a2a2a" stroke-width="0.35" textLength="60.69" lengthAdjust="spacing">Forecast probability</text>
<text transform="translate(372.80,259.52) rotate(-90)" x="0" y="0" font-size="7.11" font-weight="bold" text-anchor="middle" fill="#2a2a2a" stroke="#2a2a2a" stroke-width="0.35" textLength="82.83" lengthAdjust="spacing">Reletive observed frequence</text></g>
<g id="c1"><line x1="24.40" y1="509.20" x2="182.20" y2="377.90" stroke="#a8a8a8" stroke-width="0.8" stroke-dasharray="2 1.1"/>
<polyline points="40.18,503.82 71.74,443.55 103.30,406.39 134.86,401.53 166.42,389.32" fill="none" stroke="#585858" stroke-width="0.9"/>
<circle cx="40.18" cy="503.82" r="1.5" fill="#000"/>
<circle cx="71.74" cy="443.55" r="1.5" fill="#000"/>
<circle cx="103.30" cy="406.39" r="1.5" fill="#000"/>
<circle cx="134.86" cy="401.53" r="1.5" fill="#000"/>
<circle cx="166.42" cy="389.32" r="1.5" fill="#000"/>
<rect x="114.23" y="466.80" width="12.21" height="32.30" fill="#7d7d7d" stroke="#4a4a4a" stroke-width="0.5"/>
<rect x="126.44" y="498.56" width="12.21" height="0.54" fill="#7d7d7d" stroke="#4a4a4a" stroke-width="0.5"/>
<rect x="138.66" y="498.93" width="12.21" height="0.16" fill="#7d7d7d" stroke="#4a4a4a" stroke-width="0.5"/>
<rect x="150.87" y="498.93" width="12.21" height="0.16" fill="#7d7d7d" stroke="#4a4a4a" stroke-width="0.5"/>
<rect x="163.09" y="486.71" width="12.21" height="12.38" fill="#7d7d7d" stroke="#4a4a4a" stroke-width="0.5"/>
<path d="M114.23,466.80 V499.10 H175.30" fill="none" stroke="#383838" stroke-width="0.8"/>
<text x="112.33" y="501.03" font-size="5.68" text-anchor="end" fill="#505050" stroke="#505050" stroke-width="0.1">0</text>
<text x="112.33" y="490.26" font-size="5.68" text-anchor="end" fill="#505050" stroke="#505050" stroke-width="0.1">0.2</text>
<text x="112.33" y="479.49" font-size="5.68" text-anchor="end" fill="#505050" stroke="#505050" stroke-width="0.1">0.4</text>
<text x="112.33" y="468.73" font-size="5.68" text-anchor="end" fill="#505050" stroke="#505050" stroke-width="0.1">0.6</text>
<text x="114.23" y="506.16" font-size="5.68" text-anchor="middle" fill="#505050" stroke="#505050" stroke-width="0.1">0</text>
<text x="126.44" y="506.16" font-size="5.68" text-anchor="middle" fill="#505050" stroke="#505050" stroke-width="0.1">0.2</text>
<text x="138.66" y="506.16" font-size="5.68" text-anchor="middle" fill="#505050" stroke="#505050" stroke-width="0.1">0.4</text>
<text x="150.87" y="506.16" font-size="5.68" text-anchor="middle" fill="#505050" stroke="#505050" stroke-width="0.1">0.6</text>
<text x="163.09" y="506.16" font-size="5.68" text-anchor="middle" fill="#505050" stroke="#505050" stroke-width="0.1">0.8</text>
<text x="175.30" y="506.16" font-size="5.68" text-anchor="middle" fill="#505050" stroke="#505050" stroke-width="0.1">1</text>
<line x1="23.75" y1="377.90" x2="182.85" y2="377.90" stroke="#999" stroke-width="1.3"/>
<line x1="23.75" y1="509.20" x2="182.85" y2="509.20" stroke="#555" stroke-width="1.3"/>
<line x1="24.40" y1="377.90" x2="24.40" y2="509.20" stroke="#555" stroke-width="1.3"/>
<line x1="182.20" y1="377.90" x2="182.20" y2="509.20" stroke="#888" stroke-width="1.3"/>
<line x1="55.96" y1="509.20" x2="55.96" y2="507.30" stroke="#4a4a4a" stroke-width="0.9"/>
<line x1="55.96" y1="377.90" x2="55.96" y2="379.80" stroke="#4a4a4a" stroke-width="0.9"/>
<line x1="24.40" y1="482.94" x2="26.30" y2="482.94" stroke="#4a4a4a" stroke-width="0.9"/>
<line x1="182.20" y1="482.94" x2="180.30" y2="482.94" stroke="#4a4a4a" stroke-width="0.9"/>
<line x1="87.52" y1="509.20" x2="87.52" y2="507.30" stroke="#4a4a4a" stroke-width="0.9"/>
<line x1="87.52" y1="377.90" x2="87.52" y2="379.80" stroke="#4a4a4a" stroke-width="0.9"/>
<line x1="24.40" y1="456.68" x2="26.30" y2="456.68" stroke="#4a4a4a" stroke-width="0.9"/>
<line x1="182.20" y1="456.68" x2="180.30" y2="456.68" stroke="#4a4a4a" stroke-width="0.9"/>
<line x1="119.08" y1="509.20" x2="119.08" y2="507.30" stroke="#4a4a4a" stroke-width="0.9"/>
<line x1="119.08" y1="377.90" x2="119.08" y2="379.80" stroke="#4a4a4a" stroke-width="0.9"/>
<line x1="24.40" y1="430.42" x2="26.30" y2="430.42" stroke="#4a4a4a" stroke-width="0.9"/>
<line x1="182.20" y1="430.42" x2="180.30" y2="430.42" stroke="#4a4a4a" stroke-width="0.9"/>
<line x1="150.64" y1="509.20" x2="150.64" y2="507.30" stroke="#4a4a4a" stroke-width="0.9"/>
<line x1="150.64" y1="377.90" x2="150.64" y2="379.80" stroke="#4a4a4a" stroke-width="0.9"/>
<line x1="24.40" y1="404.16" x2="26.30" y2="404.16" stroke="#4a4a4a" stroke-width="0.9"/>
<line x1="182.20" y1="404.16" x2="180.30" y2="404.16" stroke="#4a4a4a" stroke-width="0.9"/>
<text x="24.40" y="517.39" font-size="6.63" font-weight="bold" text-anchor="middle" fill="#2a2a2a" stroke="#2a2a2a" stroke-width="0.22">0</text>
<text x="22.40" y="511.79" font-size="6.63" font-weight="bold" text-anchor="end" fill="#2a2a2a" stroke="#2a2a2a" stroke-width="0.22">0</text>
<text x="55.96" y="517.39" font-size="6.63" font-weight="bold" text-anchor="middle" fill="#2a2a2a" stroke="#2a2a2a" stroke-width="0.22">0.2</text>
<text x="22.40" y="485.53" font-size="6.63" font-weight="bold" text-anchor="end" fill="#2a2a2a" stroke="#2a2a2a" stroke-width="0.22">0.2</text>
<text x="87.52" y="517.39" font-size="6.63" font-weight="bold" text-anchor="middle" fill="#2a2a2a" stroke="#2a2a2a" stroke-width="0.22">0.4</text>
<text x="22.40" y="459.27" font-size="6.63" font-weight="bold" text-anchor="end" fill="#2a2a2a" stroke="#2a2a2a" stroke-width="0.22">0.4</text>
<text x="119.08" y="517.39" font-size="6.63" font-weight="bold" text-anchor="middle" fill="#2a2a2a" stroke="#2a2a2a" stroke-width="0.22">0.6</text>
<text x="22.40" y="433.01" font-size="6.63" font-weight="bold" text-anchor="end" fill="#2a2a2a" stroke="#2a2a2a" stroke-width="0.22">0.6</text>
<text x="150.64" y="517.39" font-size="6.63" font-weight="bold" text-anchor="middle" fill="#2a2a2a" stroke="#2a2a2a" stroke-width="0.22">0.8</text>
<text x="22.40" y="406.75" font-size="6.63" font-weight="bold" text-anchor="end" fill="#2a2a2a" stroke="#2a2a2a" stroke-width="0.22">0.8</text>
<text x="182.20" y="517.39" font-size="6.63" font-weight="bold" text-anchor="middle" fill="#2a2a2a" stroke="#2a2a2a" stroke-width="0.22">1</text>
<text x="22.40" y="380.49" font-size="6.63" font-weight="bold" text-anchor="end" fill="#2a2a2a" stroke="#2a2a2a" stroke-width="0.22">1</text>
<text x="103.30" y="374.90" font-size="7.45" font-weight="bold" text-anchor="middle" fill="#2a2a2a" stroke="#2a2a2a" stroke-width="0.35" textLength="83.19" lengthAdjust="spacing">Reliability diagram (25%)</text>
<text x="103.30" y="526.40" font-size="7.45" font-weight="bold" text-anchor="middle" fill="#2a2a2a" stroke="#2a2a2a" stroke-width="0.35" textLength="63.61" lengthAdjust="spacing">Forecast probability</text>
<text transform="translate(11.80,443.55) rotate(-90)" x="0" y="0" font-size="7.45" font-weight="bold" text-anchor="middle" fill="#2a2a2a" stroke="#2a2a2a" stroke-width="0.35" textLength="86.77" lengthAdjust="spacing">Reletive observed frequence</text></g>
<g id="c2"><line x1="203.55" y1="509.20" x2="361.40" y2="378.20" stroke="#a8a8a8" stroke-width="0.8" stroke-dasharray="2 1.1"/>
<polyline points="219.34,500.16 250.91,436.89 282.48,407.54 314.04,402.44 345.62,385.27" fill="none" stroke="#585858" stroke-width="0.9"/>
<circle cx="219.34" cy="500.16" r="1.5" fill="#000"/>
<circle cx="250.91" cy="436.89" r="1.5" fill="#000"/>
<circle cx="282.48" cy="407.54" r="1.5" fill="#000"/>
<circle cx="314.04" cy="402.44" r="1.5" fill="#000"/>
<circle cx="345.62" cy="385.27" r="1.5" fill="#000"/>
<rect x="293.41" y="473.34" width="12.22" height="25.78" fill="#7d7d7d" stroke="#4a4a4a" stroke-width="0.5"/>
<rect x="305.63" y="498.58" width="12.22" height="0.54" fill="#7d7d7d" stroke="#4a4a4a" stroke-width="0.5"/>
<rect x="317.84" y="498.85" width="12.22" height="0.27" fill="#7d7d7d" stroke="#4a4a4a" stroke-width="0.5"/>
<rect x="330.06" y="498.85" width="12.22" height="0.27" fill="#7d7d7d" stroke="#4a4a4a" stroke-width="0.5"/>
<rect x="342.28" y="474.95" width="12.22" height="24.17" fill="#7d7d7d" stroke="#4a4a4a" stroke-width="0.5"/>
<path d="M293.41,466.89 V499.12 H354.50" fill="none" stroke="#383838" stroke-width="0.8"/>
<text x="291.51" y="501.05" font-size="5.68" text-anchor="end" fill="#505050" stroke="#505050" stroke-width="0.1">0</text>
<text x="291.51" y="490.31" font-size="5.68" text-anchor="end" fill="#505050" stroke="#505050" stroke-width="0.1">0.2</text>
<text x="291.51" y="479.57" font-size="5.68" text-anchor="end" fill="#505050" stroke="#505050" stroke-width="0.1">0.4</text>
<text x="291.51" y="468.83" font-size="5.68" text-anchor="end" fill="#505050" stroke="#505050" stroke-width="0.1">0.6</text>
<text x="293.41" y="506.18" font-size="5.68" text-anchor="middle" fill="#505050" stroke="#505050" stroke-width="0.1">0</text>
<text x="305.63" y="506.18" font-size="5.68" text-anchor="middle" fill="#505050" stroke="#505050" stroke-width="0.1">0.2</text>
<text x="317.84" y="506.18" font-size="5.68" text-anchor="middle" fill="#505050" stroke="#505050" stroke-width="0.1">0.4</text>
<text x="330.06" y="506.18" font-size="5.68" text-anchor="middle" fill="#505050" stroke="#505050" stroke-width="0.1">0.6</text>
<text x="342.28" y="506.18" font-size="5.68" text-anchor="middle" fill="#505050" stroke="#505050" stroke-width="0.1">0.8</text>
<text x="354.50" y="506.18" font-size="5.68" text-anchor="middle" fill="#505050" stroke="#505050" stroke-width="0.1">1</text>
<line x1="202.90" y1="378.20" x2="362.05" y2="378.20" stroke="#999" stroke-width="1.3"/>
<line x1="202.90" y1="509.20" x2="362.05" y2="509.20" stroke="#555" stroke-width="1.3"/>
<line x1="203.55" y1="378.20" x2="203.55" y2="509.20" stroke="#ababab" stroke-width="1.3"/>
<line x1="361.40" y1="378.20" x2="361.40" y2="509.20" stroke="#999" stroke-width="1.3"/>
<line x1="235.12" y1="509.20" x2="235.12" y2="507.30" stroke="#4a4a4a" stroke-width="0.9"/>
<line x1="235.12" y1="378.20" x2="235.12" y2="380.10" stroke="#4a4a4a" stroke-width="0.9"/>
<line x1="203.55" y1="483.00" x2="205.45" y2="483.00" stroke="#4a4a4a" stroke-width="0.9"/>
<line x1="361.40" y1="483.00" x2="359.50" y2="483.00" stroke="#4a4a4a" stroke-width="0.9"/>
<line x1="266.69" y1="509.20" x2="266.69" y2="507.30" stroke="#4a4a4a" stroke-width="0.9"/>
<line x1="266.69" y1="378.20" x2="266.69" y2="380.10" stroke="#4a4a4a" stroke-width="0.9"/>
<line x1="203.55" y1="456.80" x2="205.45" y2="456.80" stroke="#4a4a4a" stroke-width="0.9"/>
<line x1="361.40" y1="456.80" x2="359.50" y2="456.80" stroke="#4a4a4a" stroke-width="0.9"/>
<line x1="298.26" y1="509.20" x2="298.26" y2="507.30" stroke="#4a4a4a" stroke-width="0.9"/>
<line x1="298.26" y1="378.20" x2="298.26" y2="380.10" stroke="#4a4a4a" stroke-width="0.9"/>
<line x1="203.55" y1="430.60" x2="205.45" y2="430.60" stroke="#4a4a4a" stroke-width="0.9"/>
<line x1="361.40" y1="430.60" x2="359.50" y2="430.60" stroke="#4a4a4a" stroke-width="0.9"/>
<line x1="329.83" y1="509.20" x2="329.83" y2="507.30" stroke="#4a4a4a" stroke-width="0.9"/>
<line x1="329.83" y1="378.20" x2="329.83" y2="380.10" stroke="#4a4a4a" stroke-width="0.9"/>
<line x1="203.55" y1="404.40" x2="205.45" y2="404.40" stroke="#4a4a4a" stroke-width="0.9"/>
<line x1="361.40" y1="404.40" x2="359.50" y2="404.40" stroke="#4a4a4a" stroke-width="0.9"/>
<text x="203.55" y="517.39" font-size="6.63" font-weight="bold" text-anchor="middle" fill="#2a2a2a" stroke="#2a2a2a" stroke-width="0.22">0</text>
<text x="201.55" y="511.79" font-size="6.63" font-weight="bold" text-anchor="end" fill="#2a2a2a" stroke="#2a2a2a" stroke-width="0.22">0</text>
<text x="235.12" y="517.39" font-size="6.63" font-weight="bold" text-anchor="middle" fill="#2a2a2a" stroke="#2a2a2a" stroke-width="0.22">0.2</text>
<text x="201.55" y="485.59" font-size="6.63" font-weight="bold" text-anchor="end" fill="#2a2a2a" stroke="#2a2a2a" stroke-width="0.22">0.2</text>
<text x="266.69" y="517.39" font-size="6.63" font-weight="bold" text-anchor="middle" fill="#2a2a2a" stroke="#2a2a2a" stroke-width="0.22">0.4</text>
<text x="201.55" y="459.39" font-size="6.63" font-weight="bold" text-anchor="end" fill="#2a2a2a" stroke="#2a2a2a" stroke-width="0.22">0.4</text>
<text x="298.26" y="517.39" font-size="6.63" font-weight="bold" text-anchor="middle" fill="#2a2a2a" stroke="#2a2a2a" stroke-width="0.22">0.6</text>
<text x="201.55" y="433.19" font-size="6.63" font-weight="bold" text-anchor="end" fill="#2a2a2a" stroke="#2a2a2a" stroke-width="0.22">0.6</text>
<text x="329.83" y="517.39" font-size="6.63" font-weight="bold" text-anchor="middle" fill="#2a2a2a" stroke="#2a2a2a" stroke-width="0.22">0.8</text>
<text x="201.55" y="406.99" font-size="6.63" font-weight="bold" text-anchor="end" fill="#2a2a2a" stroke="#2a2a2a" stroke-width="0.22">0.8</text>
<text x="361.40" y="517.39" font-size="6.63" font-weight="bold" text-anchor="middle" fill="#2a2a2a" stroke="#2a2a2a" stroke-width="0.22">1</text>
<text x="201.55" y="380.79" font-size="6.63" font-weight="bold" text-anchor="end" fill="#2a2a2a" stroke="#2a2a2a" stroke-width="0.22">1</text>
<text x="282.48" y="375.20" font-size="7.45" font-weight="bold" text-anchor="middle" fill="#2a2a2a" stroke="#2a2a2a" stroke-width="0.35" textLength="83.22" lengthAdjust="spacing">Reliability diagram (50%)</text>
<text x="282.48" y="526.41" font-size="7.45" font-weight="bold" text-anchor="middle" fill="#2a2a2a" stroke="#2a2a2a" stroke-width="0.35" textLength="63.63" lengthAdjust="spacing">Forecast probability</text>
<text transform="translate(190.95,443.70) rotate(-90)" x="0" y="0" font-size="7.45" font-weight="bold" text-anchor="middle" fill="#2a2a2a" stroke="#2a2a2a" stroke-width="0.35" textLength="86.80" lengthAdjust="spacing">Reletive observed frequence</text></g>
<g id="c3"><line x1="383.00" y1="509.20" x2="540.30" y2="378.20" stroke="#a8a8a8" stroke-width="0.8" stroke-dasharray="2 1.1"/>
<polyline points="398.73,505.27 430.19,467.80 461.65,427.46 493.11,413.57 524.57,387.11" fill="none" stroke="#585858" stroke-width="0.9"/>
<circle cx="398.73" cy="505.27" r="1.5" fill="#000"/>
<circle cx="430.19" cy="467.80" r="1.5" fill="#000"/>
<circle cx="461.65" cy="427.46" r="1.5" fill="#000"/>
<circle cx="493.11" cy="413.57" r="1.5" fill="#000"/>
<circle cx="524.57" cy="387.11" r="1.5" fill="#000"/>
<rect x="472.55" y="487.68" width="12.18" height="11.44" fill="#7d7d7d" stroke="#4a4a4a" stroke-width="0.5"/>
<rect x="484.72" y="498.58" width="12.18" height="0.54" fill="#7d7d7d" stroke="#4a4a4a" stroke-width="0.5"/>
<rect x="496.90" y="499.12" width="12.18" height="0.00" fill="#7d7d7d" stroke="#4a4a4a" stroke-width="0.5"/>
<rect x="509.07" y="498.58" width="12.18" height="0.54" fill="#7d7d7d" stroke="#4a4a4a" stroke-width="0.5"/>
<rect x="521.25" y="466.89" width="12.18" height="32.23" fill="#7d7d7d" stroke="#4a4a4a" stroke-width="0.5"/>
<path d="M472.55,466.89 V499.12 H533.42" fill="none" stroke="#383838" stroke-width="0.8"/>
<text x="470.65" y="501.05" font-size="5.66" text-anchor="end" fill="#505050" stroke="#505050" stroke-width="0.1">0</text>
<text x="470.65" y="490.30" font-size="5.66" text-anchor="end" fill="#505050" stroke="#505050" stroke-width="0.1">0.2</text>
<text x="470.65" y="479.56" font-size="5.66" text-anchor="end" fill="#505050" stroke="#505050" stroke-width="0.1">0.4</text>
<text x="470.65" y="468.82" font-size="5.66" text-anchor="end" fill="#505050" stroke="#505050" stroke-width="0.1">0.6</text>
<text x="472.55" y="506.17" font-size="5.66" text-anchor="middle" fill="#505050" stroke="#505050" stroke-width="0.1">0</text>
<text x="484.72" y="506.17" font-size="5.66" text-anchor="middle" fill="#505050" stroke="#505050" stroke-width="0.1">0.2</text>
<text x="496.90" y="506.17" font-size="5.66" text-anchor="middle" fill="#505050" stroke="#505050" stroke-width="0.1">0.4</text>
<text x="509.07" y="506.17" font-size="5.66" text-anchor="middle" fill="#505050" stroke="#505050" stroke-width="0.1">0.6</text>
<text x="521.25" y="506.17" font-size="5.66" text-anchor="middle" fill="#505050" stroke="#505050" stroke-width="0.1">0.8</text>
<text x="533.42" y="506.17" font-size="5.66" text-anchor="middle" fill="#505050" stroke="#505050" stroke-width="0.1">1</text>
<line x1="382.35" y1="378.20" x2="540.95" y2="378.20" stroke="#aaa" stroke-width="1.3"/>
<line x1="382.35" y1="509.20" x2="540.95" y2="509.20" stroke="#555" stroke-width="1.3"/>
<line x1="383.00" y1="378.20" x2="383.00" y2="509.20" stroke="#aaa" stroke-width="1.3"/>
<line x1="540.30" y1="378.20" x2="540.30" y2="509.20" stroke="#555" stroke-width="1.3"/>
<line x1="414.46" y1="509.20" x2="414.46" y2="507.30" stroke="#4a4a4a" stroke-width="0.9"/>
<line x1="414.46" y1="378.20" x2="414.46" y2="380.10" stroke="#4a4a4a" stroke-width="0.9"/>
<line x1="383.00" y1="483.00" x2="384.90" y2="483.00" stroke="#4a4a4a" stroke-width="0.9"/>
<line x1="540.30" y1="483.00" x2="538.40" y2="483.00" stroke="#4a4a4a" stroke-width="0.9"/>
<line x1="445.92" y1="509.20" x2="445.92" y2="507.30" stroke="#4a4a4a" stroke-width="0.9"/>
<line x1="445.92" y1="378.20" x2="445.92" y2="380.10" stroke="#4a4a4a" stroke-width="0.9"/>
<line x1="383.00" y1="456.80" x2="384.90" y2="456.80" stroke="#4a4a4a" stroke-width="0.9"/>
<line x1="540.30" y1="456.80" x2="538.40" y2="456.80" stroke="#4a4a4a" stroke-width="0.9"/>
<line x1="477.38" y1="509.20" x2="477.38" y2="507.30" stroke="#4a4a4a" stroke-width="0.9"/>
<line x1="477.38" y1="378.20" x2="477.38" y2="380.10" stroke="#4a4a4a" stroke-width="0.9"/>
<line x1="383.00" y1="430.60" x2="384.90" y2="430.60" stroke="#4a4a4a" stroke-width="0.9"/>
<line x1="540.30" y1="430.60" x2="538.40" y2="430.60" stroke="#4a4a4a" stroke-width="0.9"/>
<line x1="508.84" y1="509.20" x2="508.84" y2="507.30" stroke="#4a4a4a" stroke-width="0.9"/>
<line x1="508.84" y1="378.20" x2="508.84" y2="380.10" stroke="#4a4a4a" stroke-width="0.9"/>
<line x1="383.00" y1="404.40" x2="384.90" y2="404.40" stroke="#4a4a4a" stroke-width="0.9"/>
<line x1="540.30" y1="404.40" x2="538.40" y2="404.40" stroke="#4a4a4a" stroke-width="0.9"/>
<text x="383.00" y="517.38" font-size="6.61" font-weight="bold" text-anchor="middle" fill="#2a2a2a" stroke="#2a2a2a" stroke-width="0.22">0</text>
<text x="381.00" y="511.78" font-size="6.61" font-weight="bold" text-anchor="end" fill="#2a2a2a" stroke="#2a2a2a" stroke-width="0.22">0</text>
<text x="414.46" y="517.38" font-size="6.61" font-weight="bold" text-anchor="middle" fill="#2a2a2a" stroke="#2a2a2a" stroke-width="0.22">0.2</text>
<text x="381.00" y="485.58" font-size="6.61" font-weight="bold" text-anchor="end" fill="#2a2a2a" stroke="#2a2a2a" stroke-width="0.22">0.2</text>
<text x="445.92" y="517.38" font-size="6.61" font-weight="bold" text-anchor="middle" fill="#2a2a2a" stroke="#2a2a2a" stroke-width="0.22">0.4</text>
<text x="381.00" y="459.38" font-size="6.61" font-weight="bold" text-anchor="end" fill="#2a2a2a" stroke="#2a2a2a" stroke-width="0.22">0.4</text>
<text x="477.38" y="517.38" font-size="6.61" font-weight="bold" text-anchor="middle" fill="#2a2a2a" stroke="#2a2a2a" stroke-width="0.22">0.6</text>
<text x="381.00" y="433.18" font-size="6.61" font-weight="bold" text-anchor="end" fill="#2a2a2a" stroke="#2a2a2a" stroke-width="0.22">0.6</text>
<text x="508.84" y="517.38" font-size="6.61" font-weight="bold" text-anchor="middle" fill="#2a2a2a" stroke="#2a2a2a" stroke-width="0.22">0.8</text>
<text x="381.00" y="406.98" font-size="6.61" font-weight="bold" text-anchor="end" fill="#2a2a2a" stroke="#2a2a2a" stroke-width="0.22">0.8</text>
<text x="540.30" y="517.38" font-size="6.61" font-weight="bold" text-anchor="middle" fill="#2a2a2a" stroke="#2a2a2a" stroke-width="0.22">1</text>
<text x="381.00" y="380.78" font-size="6.61" font-weight="bold" text-anchor="end" fill="#2a2a2a" stroke="#2a2a2a" stroke-width="0.22">1</text>
<text x="461.65" y="375.20" font-size="7.42" font-weight="bold" text-anchor="middle" fill="#2a2a2a" stroke="#2a2a2a" stroke-width="0.35" textLength="82.93" lengthAdjust="spacing">Reliability diagram (75%)</text>
<text x="461.65" y="526.35" font-size="7.42" font-weight="bold" text-anchor="middle" fill="#2a2a2a" stroke="#2a2a2a" stroke-width="0.35" textLength="63.41" lengthAdjust="spacing">Forecast probability</text>
<text transform="translate(370.40,443.70) rotate(-90)" x="0" y="0" font-size="7.42" font-weight="bold" text-anchor="middle" fill="#2a2a2a" stroke="#2a2a2a" stroke-width="0.35" textLength="86.50" lengthAdjust="spacing">Reletive observed frequence</text></g>
<text x="272.3" y="175.8" font-size="13.1" text-anchor="middle" fill="#111">(<tspan font-weight="bold">a</tspan>)</text>
<text x="272.3" y="359.4" font-size="13.1" text-anchor="middle" fill="#111">(<tspan stroke="#111" stroke-width="0.35">b</tspan>)</text>
<text x="272.6" y="543.3" font-size="13.1" text-anchor="middle" fill="#111">(<tspan font-weight="bold">c</tspan>)</text>
<circle cx="269.3" cy="364.5" r="0.45" fill="#999"/><circle cx="277.5" cy="364.5" r="0.45" fill="#999"/>
</svg>
</body></html>
